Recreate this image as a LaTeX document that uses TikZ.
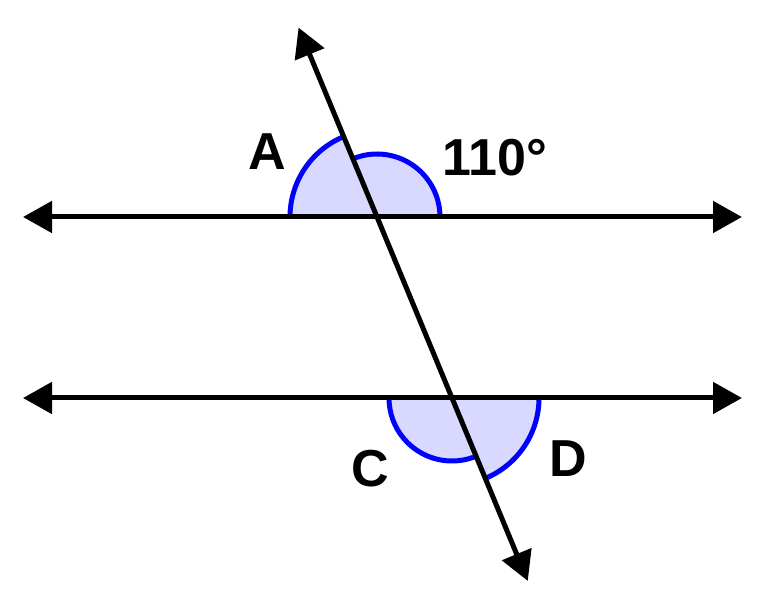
\documentclass[tikz,border=0pt]{standalone}
\usepackage{fontspec}
\setmainfont{Liberation Sans}
\usetikzlibrary{arrows.meta,calc}

\definecolor{anglefillc}{RGB}{217,217,255}
\definecolor{anglelinec}{RGB}{0,0,255}

\begin{document}
\begin{tikzpicture}[x=1pt,y=1pt]
    \tikzstyle{every node}=[inner sep=0,font=\bfseries\fontsize{52}{52}\selectfont]
    \tikzstyle{ray}=[line width=5,{Triangle[length=29pt,width=31pt]}-{Triangle[length=29pt,width=31pt]}]
    \tikzstyle{anglefill}=[fill=anglefillc]
    \tikzstyle{anglearc}=[draw=anglelinec,line width=5]
    \useasboundingbox (0,0) rectangle (768,607);
    {
        % the two parallels and the transversal
        \coordinate (tl) at (23, 390);
        \coordinate (tr) at (742, 390);
        \coordinate (bl) at (23, 209);
        \coordinate (br) at (742, 209);
        \coordinate (P) at (377, 390);
        \coordinate (Q) at (452, 209);
        \coordinate (up) at ($(P)+(112.5:205)$);
        \coordinate (down) at ($(Q)+(292.5:198)$);

        % angles
        \fill[anglefill] (P) -- ([shift={(180:87)}]P) arc[start angle=180,end angle=112.5,radius=87] -- cycle;
        \fill[anglefill] (P) -- ([shift={(0:63)}]P) arc[start angle=0,end angle=112.5,radius=63] -- cycle;
        \fill[anglefill] (Q) -- ([shift={(180:63)}]Q) arc[start angle=180,end angle=292.5,radius=63] -- cycle;
        \fill[anglefill] (Q) -- ([shift={(292.5:87)}]Q) arc[start angle=292.5,end angle=360,radius=87] -- cycle;
        \draw[anglearc] ([shift={(180:87)}]P) arc[start angle=180,end angle=112.5,radius=87];
        \draw[anglearc] ([shift={(0:63)}]P) arc[start angle=0,end angle=112.5,radius=63];
        \draw[anglearc] ([shift={(180:63)}]Q) arc[start angle=180,end angle=292.5,radius=63];
        \draw[anglearc] ([shift={(292.5:87)}]Q) arc[start angle=292.5,end angle=360,radius=87];

        \draw[ray] (tl) -- (tr);
        \draw[ray] (bl) -- (br);
        \draw[ray] (up) -- (down);

        % labels
        \node (a) at (267, 455) {A};
        \node (deg) at (495, 449) {110°};
        \node (c) at (370, 138) {C};
        \node (d) at (568, 148) {D};
    }
\end{tikzpicture}
\end{document}
